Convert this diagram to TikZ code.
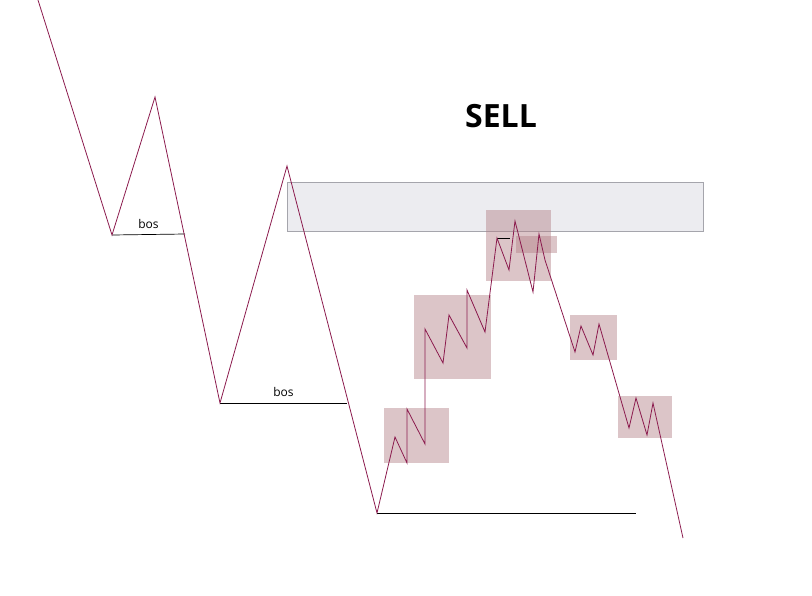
\documentclass[tikz,border=0pt]{standalone}
\usepackage{fontspec}
\setmainfont{Open Sans}
\definecolor{price}{RGB}{139,26,77}
\definecolor{zonegray}{RGB}{236,236,240}
\definecolor{zoneedge}{RGB}{165,165,172}
\definecolor{blockrose}{RGB}{177,126,133}
\tikzset{
  price/.style={draw=price, line width=0.8pt, line join=miter},
  block/.style={fill=blockrose, fill opacity=0.45, draw=none},
  level/.style={draw=black, line width=0.7pt},
  boslabel/.style={font=\fontsize{12}{14}\selectfont, inner sep=1pt}
}
\begin{document}
\begin{tikzpicture}[x=1pt, y=-1pt]
      \useasboundingbox (0,0) rectangle (812,595);
      % supply zone
      \draw[fill=zonegray, draw=zoneedge, line width=0.6pt] (287,182) rectangle (703,231);
      % order blocks
      \fill[block] (384,408) rectangle (449,463);
      \fill[block] (414,295) rectangle (491,379);
      \fill[block] (486,210) rectangle (551,281);
      \fill[block] (516,236) rectangle (557,253);
      \fill[block] (570,315) rectangle (617,360);
      \fill[block] (618,396) rectangle (672,438);
      % swing points
      \coordinate (start) at (38,0);
      \coordinate (low1) at (112,235);
      \coordinate (high1) at (155,97);
      \coordinate (low2) at (220,403);
      \coordinate (high2) at (287,166);
      \coordinate (low3) at (377,513);
      \coordinate (top) at (497,238);
      \coordinate (end) at (683,538);
      % levels
      \draw[level] (low1) -- (185,234) node[boslabel, midway, above=5pt] (bos1) {bos};
      \draw[level] (low2) -- (347,403) node[boslabel, midway, above=5pt] (bos2) {bos};
      \draw[level] (low3) -- (636,513);
      \draw[level] (top) -- (510,238);
      % price path
      \draw[price] (start) -- (low1) -- (high1) -- (low2) -- (high2) -- (low3)
        -- (395,437) -- (407,463) -- (407,409) -- (425,444) -- (425,329)
        -- (443,363) -- (449,315) -- (467,348) -- (467,290) -- (485,332)
        -- (top) -- (509,270) -- (515,221) -- (533,292) -- (539,234)
        -- (545,260) -- (575,352) -- (581,326) -- (593,355) -- (599,324)
        -- (629,428) -- (636,398) -- (647,435) -- (653,403) -- (end);
      \node[font=\fontsize{32}{36}\selectfont\bfseries] (sell) at (501,116) {SELL}; % title
\end{tikzpicture}
\end{document}
